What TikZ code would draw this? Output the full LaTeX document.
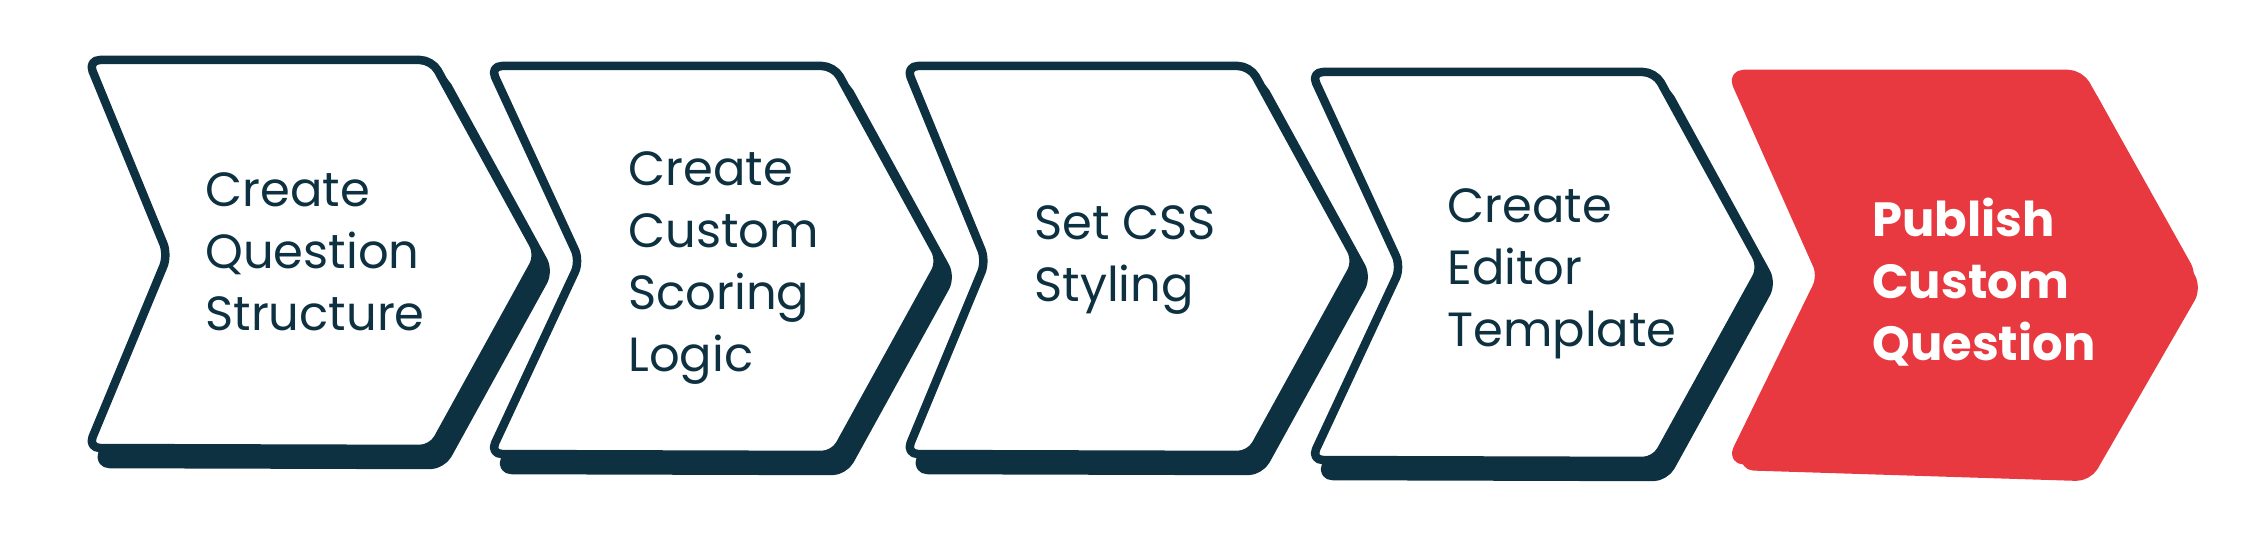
\documentclass[tikz,border=0pt]{standalone}
\usepackage{fontspec}
\setmainfont{Poppins}
\usepackage{tikz}

\definecolor{inkteal}{HTML}{0D3140}
\definecolor{pubred}{HTML}{E83940}

\tikzset{
  chevshadow/.style={draw=inkteal, fill=inkteal, line width=4.25pt, line join=round, rounded corners=6pt},
  chevline/.style={draw=inkteal, fill=white, line width=4.25pt, line join=round, rounded corners=6pt},
  chevred/.style={draw=pubred, fill=pubred, line width=4.25pt, line join=round, rounded corners=6pt},
  steptext/.style={anchor=north west, inner sep=0pt, align=left, text=inkteal,
    font=\fontsize{24}{31}\selectfont}
}

\begin{document}
\begin{tikzpicture}[x=0.5pt,y=-0.5pt]
\useasboundingbox (0,0) rectangle (2261,550);

\foreach \x/\y/\n in {88/60/80, 490/66/90, 906/66/80, 1311/72/90}{
    \draw[chevshadow, shift={(\x+10,\y+16)}] (0,0) -- (344,0) -- (451,195) -- (344,389) -- (0,388) -- (\n,195) -- cycle;
    \draw[chevline, shift={(\x,\y)}] (0,0) -- (344,0) -- (451,195) -- (344,389) -- (0,388) -- (\n,195) -- cycle;
}

% last step, filled
\draw[chevred, shift={(1742,88)}] (0,0) -- (346,0) -- (455,200) -- (346,389) -- (0,378) -- (90,190) -- cycle;
\draw[chevred] (1732,74) -- (2080,74) -- (2193,276) -- (2084,470) -- (1732,460) -- (1822,276) -- cycle;

\node[steptext] (step1) at (205,172) {Create\\Question\\Structure};
\node[steptext] (step2) at (628,151) {Create\\Custom\\Scoring\\Logic};
\node[steptext] (step3) at (1034,205) {Set CSS\\Styling};
\node[steptext] (step4) at (1447,188) {Create\\Editor\\Template};
\node[steptext, text=white, font=\fontsize{24}{31}\selectfont\bfseries] (step5) at (1872,198) {Publish\\Custom\\Question};
\end{tikzpicture}
\end{document}
